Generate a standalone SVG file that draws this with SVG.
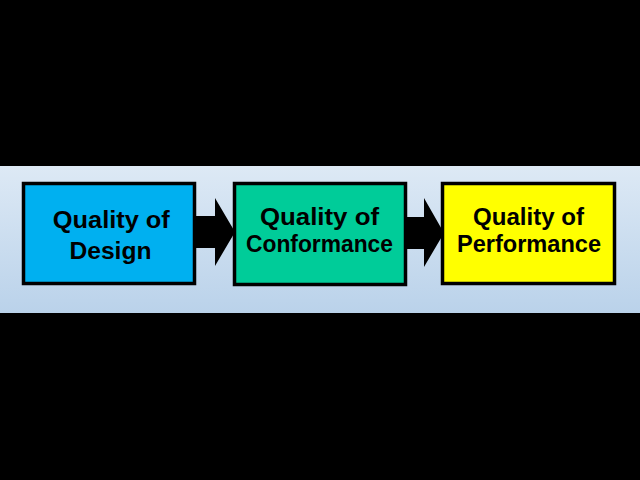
<svg xmlns="http://www.w3.org/2000/svg" width="640" height="480" viewBox="0 0 640 480">
<defs>
<linearGradient id="band" x1="0" y1="0" x2="0" y2="1">
<stop offset="0" stop-color="#dde9f5"/>
<stop offset="1" stop-color="#bad2ea"/>
</linearGradient>
<style>
.box{stroke:#000;stroke-width:3.5}
.t{font-family:"Liberation Sans",Arial,sans-serif;font-weight:bold;font-size:23px;text-anchor:middle;fill:#000}
.arr{fill:#000}
</style>
</defs>
<rect x="0" y="0" width="640" height="480" fill="#000"/>
<rect x="0" y="166" width="640" height="147" fill="url(#band)"/>
<g id="connectors">
<polygon class="arr" points="196,216 215,216 215,198 235,232 215,266 215,248 196,248"/>
<polygon class="arr" points="407,217 424,217 424,198 444,233 424,267 424,249 407,249"/>
</g>
<g id="design">
<rect class="box" x="23.5" y="183.5" width="171" height="100" fill="#00b0f0"/>
<text class="t" x="111.3" y="227.5" textLength="117" lengthAdjust="spacingAndGlyphs">Quality of</text>
<text class="t" x="110.5" y="259" font-size="22.5" textLength="82" lengthAdjust="spacingAndGlyphs">Design</text>
</g>
<g id="conformance">
<rect class="box" x="234.5" y="183.5" width="171" height="101" fill="#00cc99"/>
<text class="t" x="319.5" y="225" textLength="119" lengthAdjust="spacingAndGlyphs">Quality of</text>
<text class="t" x="319.5" y="252" font-size="20.5" textLength="147" lengthAdjust="spacingAndGlyphs">Conformance</text>
</g>
<g id="performance">
<rect class="box" x="442.5" y="183.5" width="172" height="100" fill="#ffff00"/>
<text class="t" x="528.5" y="224.5" font-size="21.8" textLength="111" lengthAdjust="spacingAndGlyphs">Quality of</text>
<text class="t" x="529" y="252" font-size="21.3" textLength="144" lengthAdjust="spacingAndGlyphs">Performance</text>
</g>
</svg>
